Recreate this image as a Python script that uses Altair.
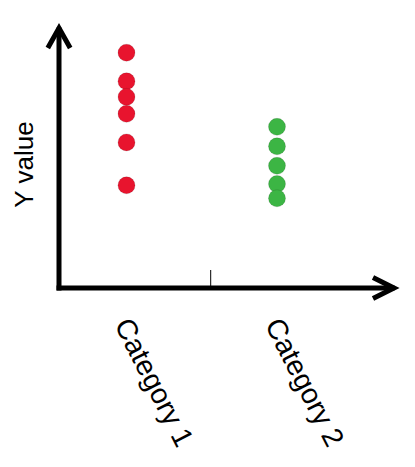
import altair as alt
import pandas as pd

categories = ["Category 1", "Category 2"]
red_values = [9.05, 7.95, 7.35, 6.7, 5.6, 3.95]
green_values = [6.2, 5.45, 4.7, 4.0, 3.45]
y_title = "Y value"

points = pd.DataFrame(
    {"category": [categories[0]] * len(red_values) + [categories[1]] * len(green_values),
     "value": red_values + green_values}
)

W, H = 335, 260

xscale = alt.Scale(domain=categories, type="point", range=[67.5, 218], padding=0)
yscale = alt.Scale(domain=[0, 10], nice=False, zero=False)

dots = alt.Chart(points).mark_circle(size=290, opacity=1, stroke="#00000033", strokeWidth=0.6).encode(
    x=alt.X("category:N", scale=xscale, sort=categories,
            axis=alt.Axis(title=None, domain=False, ticks=False, labelAngle=63,
                          labelAlign="left", labelBaseline="middle", labelFontSize=28.5,
                          labelFont="Liberation Sans", labelColor="black",
                          labelPadding=32, labelOffset=-5)),
    y=alt.Y("value:Q", scale=yscale,
            axis=alt.Axis(title=y_title, domain=False, ticks=False, labels=False, grid=False,
                          titleFontSize=26, titleFont="Liberation Sans", titleFontWeight="normal",
                          titleColor="black", titleAngle=-90, titleAlign="center",
                          titleBaseline="alphabetic", titleX=-27, titleY=136)),
    color=alt.Color("category:N", scale=alt.Scale(domain=categories, range=["#e8142e", "#3cb544"]),
                    legend=None),
)

axis_style = dict(color="black", strokeWidth=5, strokeCap="square")
xline = alt.Chart().mark_rule(**axis_style).encode(
    x=alt.value(0), x2=alt.value(W - 2), y=alt.value(H))
yline = alt.Chart().mark_rule(**axis_style).encode(
    x=alt.value(0), y=alt.value(2), y2=alt.value(H))
tick = alt.Chart().mark_rule(color="black", strokeWidth=1).encode(
    x=alt.value(151.7), y=alt.value(H - 18), y2=alt.value(H))

up_arrow = alt.Chart().mark_point(
    shape="M-0.56,1L0,0L0.56,1", size=1600, filled=False, color="black",
    strokeWidth=5, strokeJoin="miter", opacity=1).encode(
    x=alt.value(0), y=alt.value(0))
right_arrow = alt.Chart().mark_point(
    shape="M-1,-0.5L0,0L-1,0.5", size=1764, filled=False, color="black",
    strokeWidth=5, strokeJoin="miter", opacity=1).encode(
    x=alt.value(W), y=alt.value(H))

chart = alt.layer(dots, xline, yline, tick, up_arrow, right_arrow).properties(
    width=W, height=H,
    background="white",
    autosize=alt.AutoSizeParams(type="none"),
    padding={"left": 51, "top": 20, "right": 10, "bottom": 170},
).configure_view(strokeWidth=0, stroke="transparent")

chart.save("out.html", embed_options={"renderer": "svg", "actions": False})
